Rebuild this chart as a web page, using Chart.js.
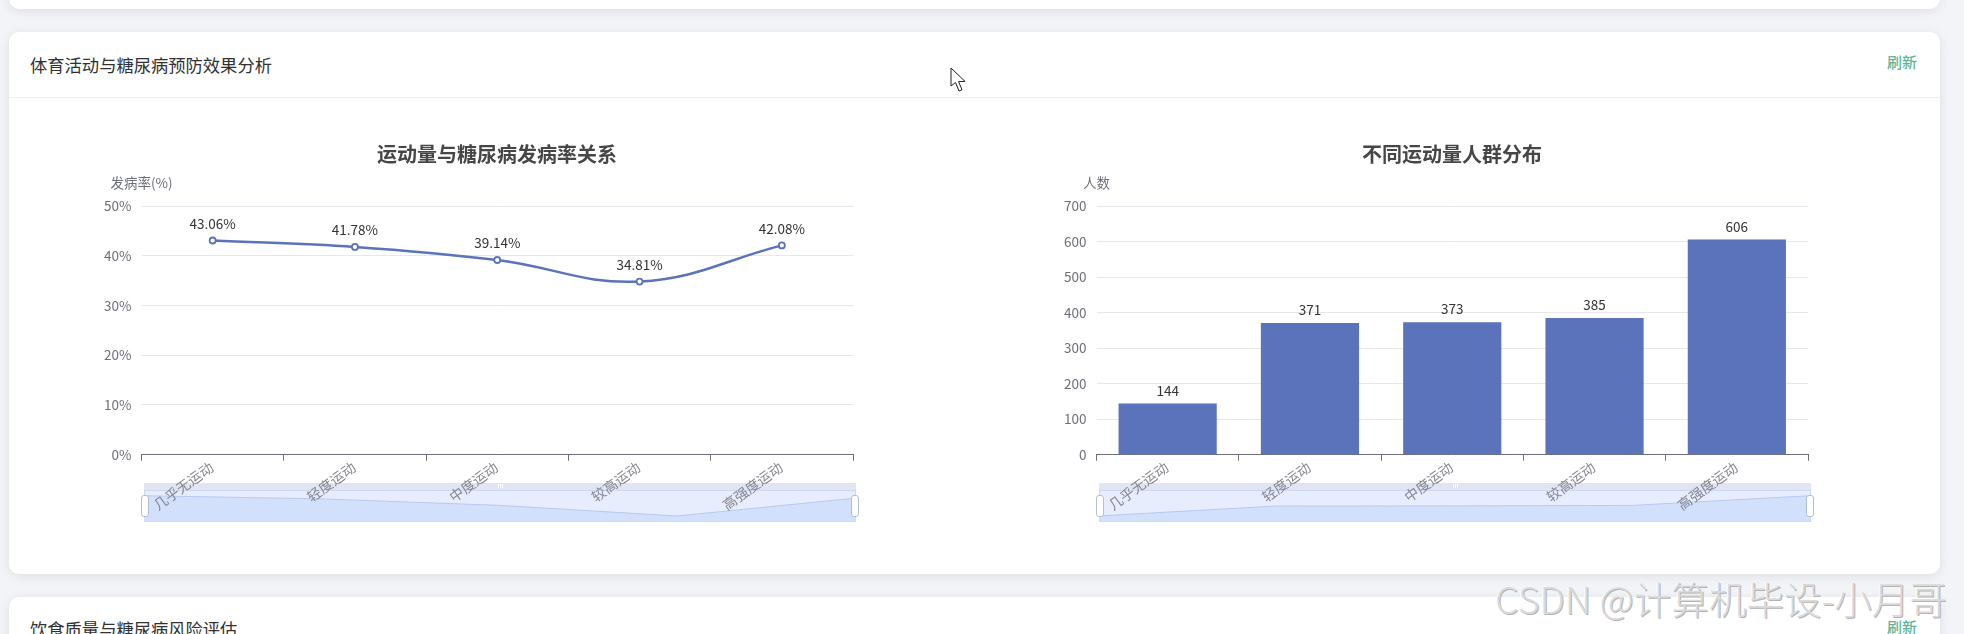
<!DOCTYPE html>
<html lang="zh-CN"><head><meta charset="utf-8">
<script src="https://cdn.jsdelivr.net/npm/chart.js@4"></script>
<style>
html,body{margin:0;padding:0;width:1964px;height:634px;overflow:hidden;background:#f2f4f7;font-family:"Noto Sans CJK SC",sans-serif}
.abs{position:absolute}
.card{position:absolute;left:9px;width:1931px;background:#fff;border-radius:10px;box-shadow:0 2px 12px rgba(0,0,0,.09)}
.head{position:absolute;left:30px;font-size:17.3px;color:#303133;line-height:24px;white-space:nowrap}
.refresh{position:absolute;left:1887px;font-size:15px;font-weight:500;color:#5fb59a;line-height:20px}
canvas{position:absolute;display:block}
.dzTop{position:absolute;height:7px;background:#e0e5f1}
.dzBody{position:absolute;height:32px;background:#e7edfc;box-shadow:inset 0 0 0 1px #cdd8f0}
.dzHandle{position:absolute;width:6px;height:20px;background:#fff;border:1px solid #b4bfd6;border-radius:3px}
.grip{position:absolute;width:5px;height:4px;background:repeating-linear-gradient(90deg,#fff 0 1px,transparent 1px 2px)}
.wm{position:absolute;left:1495px;top:576px;font-size:37.6px;font-weight:300;line-height:44px;color:#dadada;white-space:nowrap;text-shadow:1px 1px 0 #b4b4b4,-1px 0 0 #fff}
</style></head><body>
<div class="card" style="top:-40px;height:49px"></div>
<div class="card" style="top:32px;height:542px"></div>
<div class="card" style="top:597px;height:80px"></div>
<div class="abs" style="left:9px;top:97px;width:1931px;height:1px;background:#eff0f2"></div>
<div class="head" style="top:53px">体育活动与糖尿病预防效果分析</div>
<div class="refresh" style="top:52px">刷新</div>
<div class="head" style="top:617px">饮食质量与糖尿病风险评估</div>
<div class="refresh" style="top:617px">刷新</div>

<div class="dzTop" style="left:144px;top:483px;width:711.5px"></div>
<div class="dzBody" style="left:144px;top:490px;width:711.5px"></div>
<canvas id="p1" width="711" height="32" style="left:144px;top:490px"></canvas>
<div class="dzTop" style="left:1099px;top:483px;width:711.5px"></div>
<div class="dzBody" style="left:1099px;top:490px;width:711.5px"></div>
<canvas id="p2" width="711" height="32" style="left:1099px;top:490px"></canvas>

<canvas id="c1" width="934" height="410" style="left:30px;top:130px"></canvas>
<canvas id="c2" width="934" height="410" style="left:985px;top:130px"></canvas>

<div class="dzHandle" style="left:141px;top:495px"></div>
<div class="dzHandle" style="left:851px;top:495px"></div>
<div class="grip" style="left:498px;top:484px"></div>
<div class="dzHandle" style="left:1096px;top:495px"></div>
<div class="dzHandle" style="left:1806px;top:495px"></div>
<div class="grip" style="left:1453px;top:484px"></div>

<svg class="abs" style="left:950px;top:67px" width="18" height="26" viewBox="0 0 18 26"><path d="M1 1 L1 19 L5.5 15.5 L9 24 L12 22.8 L8.6 14.6 L15 14.4 Z" fill="#fff" stroke="#222" stroke-width="1"/></svg>
<div class="wm">CSDN @计算机毕设-小月哥</div>

<script>
const categories = ["几乎无运动", "轻度运动", "中度运动", "较高运动", "高强度运动"];
const rates = [43.06, 41.78, 39.14, 34.81, 42.08];
const counts = [144, 371, 373, 385, 606];
const rateName = "发病率(%)";
const countName = "人数";
const FONT = '"Noto Sans CJK SC", sans-serif';
const AXIS = "#6e7079", GRID = "#e6e8ee", BLUE = "#5a73bb";

const valueLabels = {
  id: "valueLabels",
  afterDatasetsDraw(chart, _a, o) {
    const c = chart.ctx, meta = chart.getDatasetMeta(0), data = chart.data.datasets[0].data;
    c.save();
    c.font = "13.5px " + FONT; c.fillStyle = "#333"; c.textAlign = "center"; c.textBaseline = "middle";
    meta.data.forEach((el, i) => c.fillText(o.fmt(data[i]), el.x, el.y - o.gap));
    c.restore();
  }
};
const axisName = {
  id: "axisName",
  afterDraw(chart, _a, o) {
    const c = chart.ctx;
    c.save();
    c.font = "13.5px " + FONT; c.fillStyle = AXIS; c.textAlign = "center"; c.textBaseline = "middle";
    c.fillText(o.text, chart.chartArea.left, chart.chartArea.top - 23);
    c.restore();
  }
};
function scales(max, step, cb) {
  return {
    x: {
      type: "category", offset: true,
      border: { display: true, color: AXIS, width: 1 },
      grid: { display: true, offset: true, drawOnChartArea: false, drawTicks: true, tickLength: 6, tickColor: AXIS },
      ticks: { autoSkip: false, minRotation: 36, maxRotation: 36, padding: -2, labelOffset: -1, color: "#85878f", font: { size: 14, family: FONT } },
      afterFit(s) { s.height = 85.3; }
    },
    y: {
      min: 0, max: max,
      border: { display: false },
      grid: { color: GRID, lineWidth: 1, drawTicks: false },
      ticks: { stepSize: step, padding: 10, color: AXIS, font: { size: 13.5, family: FONT }, callback: cb },
      afterFit(s) { s.width = 111.5; }
    },
    inset: {
      type: "linear", position: "right", display: true,
      border: { display: false }, grid: { display: false, drawTicks: false }, ticks: { display: false },
      afterFit(s) { s.width = 111; }
    }
  };
}
function titleOpt(text) {
  return { display: true, fullSize: true, text, color: "#464646", font: { size: 20, weight: "bold", family: FONT, lineHeight: 1.2 }, padding: { top: 12, bottom: 40 } };
}
const base = { responsive: false, animation: false, devicePixelRatio: 1, layout: { padding: 0 } };

new Chart(document.getElementById("c1"), {
  type: "line",
  data: { labels: categories, datasets: [{ data: rates, borderColor: BLUE, borderWidth: 2.5, tension: 0.4, cubicInterpolationMode: "default",
    pointRadius: 3, pointBorderWidth: 1.8, pointBackgroundColor: "#fff", pointBorderColor: BLUE }] },
  options: { ...base, scales: scales(50, 10, v => v + "%"),
    plugins: { legend: { display: false }, tooltip: { enabled: false }, title: titleOpt("运动量与糖尿病发病率关系"),
      valueLabels: { fmt: v => v.toFixed(2) + "%", gap: 17 }, axisName: { text: rateName } } },
  plugins: [valueLabels, axisName]
});
new Chart(document.getElementById("c2"), {
  type: "bar",
  data: { labels: categories, datasets: [{ data: counts, backgroundColor: BLUE, barPercentage: 0.69, categoryPercentage: 1 }] },
  options: { ...base, scales: scales(700, 100, v => v),
    plugins: { legend: { display: false }, tooltip: { enabled: false }, title: titleOpt("不同运动量人群分布"),
      valueLabels: { fmt: v => String(v), gap: 13 }, axisName: { text: countName } } },
  plugins: [valueLabels, axisName]
});
function preview(id, values, min, max) {
  new Chart(document.getElementById(id), {
    type: "line",
    data: { labels: categories, datasets: [{ data: values, borderColor: "#b7c8f3", borderWidth: 1, tension: 0, pointRadius: 0, fill: "start", backgroundColor: "rgba(206,220,250,.8)" }] },
    options: { responsive: false, animation: false, devicePixelRatio: 1, layout: { padding: 0 },
      scales: { x: { display: false, offset: false }, y: { display: false, min, max } },
      plugins: { legend: { display: false }, tooltip: { enabled: false } } }
  });
}
preview("p1", rates, 32.37, 45.4);
preview("p2", counts, 5.4, 737.6);
</script>
</body></html>
